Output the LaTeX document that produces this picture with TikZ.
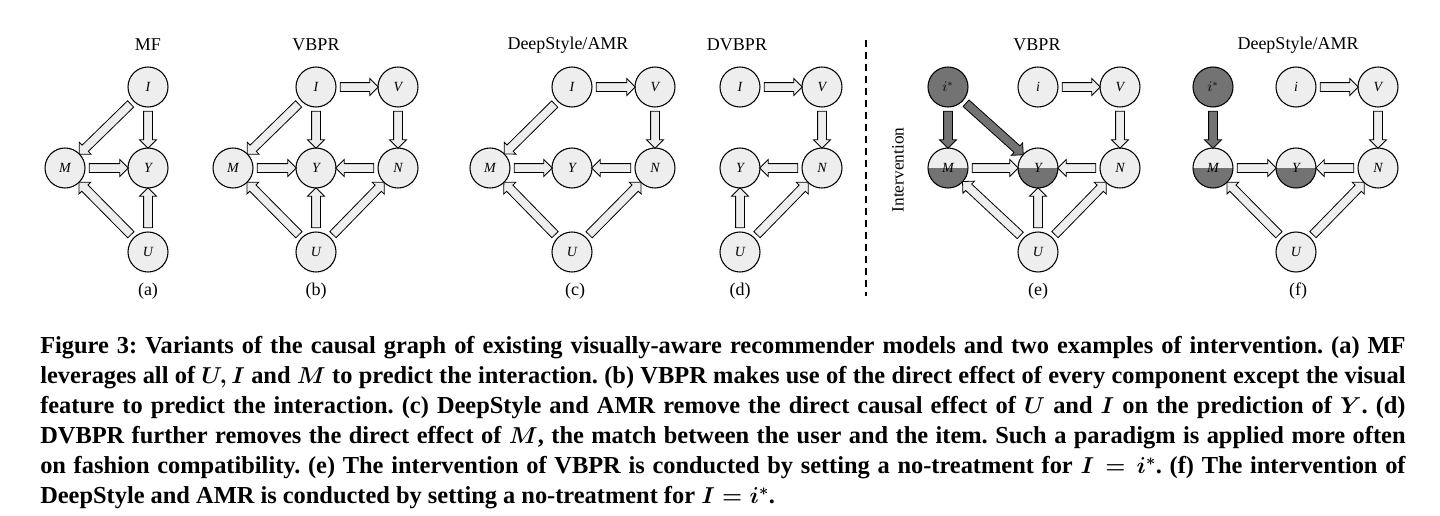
\documentclass[tikz,border=0pt]{standalone}
\usepackage{fontspec}
\setmainfont{Liberation Serif}
\usetikzlibrary{shapes.arrows,calc}
\definecolor{nfill}{HTML}{EEEEEE}
\definecolor{dk}{HTML}{737373}
\tikzset{
  v/.style={circle,draw,line width=0.8pt,fill=nfill,minimum size=30pt,inner sep=0pt,font=\fontsize{10.5}{10.5}\selectfont\itshape},
  vs/.style={v,path picture={\fill[dk] (path picture bounding box.west) rectangle (path picture bounding box.south east);}},
  vd/.style={v,fill=dk},
  harrow/.style={single arrow,draw,line width=0.6pt,inner sep=3pt,single arrow head extend=3pt,single arrow head indent=0pt,anchor=center},
  ttl/.style={font=\fontsize{13.5}{13.5}\selectfont},
  sub/.style={font=\fontsize{13.5}{13.5}\selectfont}
}
\newcommand\harr[3][nfill]{\path let \p1=($(#2)!16.5pt!(#3)$), \p2=($(#3)!16.5pt!(#2)$), \n1={atan2(\y2-\y1,\x2-\x1)}, \n2={veclen(\x2-\x1,\y2-\y1)} in node[harrow,fill=#1,minimum height=\n2,rotate=\n1] at ($(\p1)!0.5!(\p2)$) {};}
\begin{document}
\frenchspacing
\begin{tikzpicture}[x=0.75pt,y=-0.75pt]
\useasboundingbox (0,0) rectangle (1440,515);
% (a)
\node[ttl] (ta) at (148,45) {MF};
\node[v] (aI) at (148,87) {I};
\node[v] (aM) at (65,168) {M};
\node[v] (aY) at (148,168) {Y};
\node[v] (aU) at (148,252) {U};
\node[sub] (sa) at (148,291) {(a)};
\harr{aI}{aM}\harr{aI}{aY}\harr{aM}{aY}\harr{aU}{aM}\harr{aU}{aY}
% (b)
\node[ttl] (tb) at (316,45) {VBPR};
\node[v] (bI) at (316,87) {I};
\node[v] (bV) at (398,87) {V};
\node[v] (bM) at (233,168) {M};
\node[v] (bY) at (316,168) {Y};
\node[v] (bN) at (398,168) {N};
\node[v] (bU) at (316,252) {U};
\node[sub] (sb) at (316,291) {(b)};
\harr{bI}{bV}\harr{bI}{bM}\harr{bI}{bY}\harr{bV}{bN}\harr{bM}{bY}\harr{bN}{bY}\harr{bU}{bM}\harr{bU}{bY}\harr{bU}{bN}
% (c)
\node[ttl] (tc) at (568,45) {DeepStyle/AMR};
\node[v] (cI) at (572,87) {I};
\node[v] (cV) at (655,87) {V};
\node[v] (cM) at (490,168) {M};
\node[v] (cY) at (572,168) {Y};
\node[v] (cN) at (655,168) {N};
\node[v] (cU) at (572,252) {U};
\node[sub] (sc) at (575,291) {(c)};
\harr{cI}{cV}\harr{cI}{cM}\harr{cV}{cN}\harr{cM}{cY}\harr{cN}{cY}\harr{cU}{cM}\harr{cU}{cN}
% (d)
\node[ttl] (td) at (737,45) {DVBPR};
\node[v] (dI) at (740,87) {I};
\node[v] (dV) at (822,87) {V};
\node[v] (dY) at (740,168) {Y};
\node[v] (dN) at (822,168) {N};
\node[v] (dU) at (740,252) {U};
\node[sub] (sd) at (740,291) {(d)};
\harr{dI}{dV}\harr{dV}{dN}\harr{dN}{dY}\harr{dU}{dY}\harr{dU}{dN}
% divider
\coordinate (l1) at (866,40); \coordinate (l2) at (866,296);
\draw[line width=2pt,dash pattern=on 5pt off 4pt] (l1) -- (l2);
\node[rotate=90,font=\fontsize{13}{13}\selectfont] (iv) at (898,170) {Intervention};
% (e)
\node[ttl] (te) at (1037,45) {VBPR};
\node[vd] (eS) at (948,87) {$i^*$};
\node[v] (ei) at (1038,87) {i};
\node[v] (eV) at (1120,87) {V};
\node[vs] (eM) at (948,168) {M};
\node[vs] (eY) at (1038,168) {Y};
\node[v] (eN) at (1120,168) {N};
\node[v] (eU) at (1038,252) {U};
\node[sub] (se) at (1038,291) {(e)};
\harr[dk]{eS}{eM}\harr[dk]{eS}{eY}\harr{ei}{eV}\harr{eV}{eN}\harr{eM}{eY}\harr{eN}{eY}\harr{eU}{eM}\harr{eU}{eY}\harr{eU}{eN}
% (f)
\node[ttl] (tf) at (1298,45) {DeepStyle/AMR};
\node[vd] (fS) at (1213,87) {$i^*$};
\node[v] (fi) at (1296,87) {i};
\node[v] (fV) at (1378,87) {V};
\node[vs] (fM) at (1213,168) {M};
\node[vs] (fY) at (1296,168) {Y};
\node[v] (fN) at (1378,168) {N};
\node[v] (fU) at (1296,252) {U};
\node[sub] (sf) at (1298,291) {(f)};
\harr[dk]{fS}{fM}\harr{fi}{fV}\harr{fV}{fN}\harr{fM}{fY}\harr{fN}{fY}\harr{fU}{fM}\harr{fU}{fN}
% caption
\node[anchor=north west,text width=1024pt,align=justify,inner sep=0pt,font=\fontsize{18.3}{22.5}\selectfont\bfseries\boldmath] (cap) at (40,336)
{Figure 3: Variants of the causal graph of existing visually-aware recommender models and two examples of intervention. (a) MF leverages all of $U, I$ and $M$ to predict the interaction. (b) VBPR makes use of the direct effect of every component except the visual feature to predict the interaction. (c) DeepStyle and AMR remove the direct causal effect of $U$ and $I$ on the prediction of $Y$. (d) DVBPR further removes the direct effect of $M$, the match between the user and the item. Such a paradigm is applied more often on fashion compatibility. (e) The intervention of VBPR is conducted by setting a no-treatment for $I = i^*$. (f) The intervention of DeepStyle and AMR is conducted by setting a no-treatment for $I = i^*$.};
\end{tikzpicture}
\end{document}
